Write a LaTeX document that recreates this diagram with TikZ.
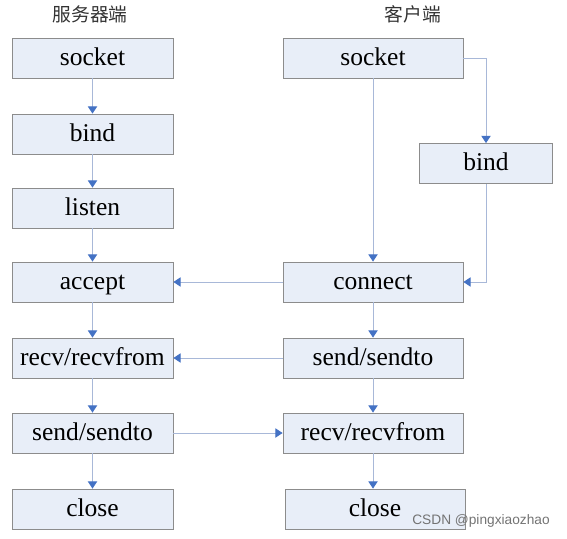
\documentclass[tikz,border=0pt]{standalone}
\usepackage{fontspec}
\setmainfont{Liberation Serif}
\newfontfamily\cjkfont{Noto Sans CJK SC}
\newfontfamily\wmfont{Liberation Sans}
\usetikzlibrary{arrows.meta}
\definecolor{boxfill}{HTML}{E8EEF8}
\definecolor{boxline}{HTML}{8C8C8C}
\definecolor{linkline}{HTML}{A8B8D8}
\definecolor{tipblue}{HTML}{4472C4}

\begin{document}
\begin{tikzpicture}[x=0.03cm,y=-0.03cm,
	box/.style={draw=boxline,fill=boxfill,line width=0.6pt,minimum width=4.83cm,minimum height=1.2cm,inner sep=0pt,font=\fontsize{21.8}{24}\selectfont,text height=16.3pt,text depth=3.7pt},
	wide/.style={box,minimum width=5.4cm},
	link/.style={draw=linkline,line width=0.8pt,-{Triangle[color=tipblue,length=0.22cm,width=0.28cm]}},
	title/.style={font=\cjkfont\fontsize{16}{18}\selectfont,text=black!80}]
	\useasboundingbox (0,0) rectangle (567,539);
	% titles
	\node[title] (server) at (90,14) {服务器端};
	\node[title] (client) at (413,14) {客户端};
	% server side
	\node[box] (sSocket) at (92.5,58) {socket};
	\node[box] (sBind) at (92.5,134) {bind};
	\node[box] (sListen) at (92.5,208) {listen};
	\node[box] (sAccept) at (92.5,282) {accept};
	\node[box] (sRecv) at (92.5,358) {recv/recvfrom};
	\node[box] (sSend) at (92.5,433) {send/sendto};
	\node[box] (sClose) at (92.5,509) {close};
	% client side
	\node[wide] (cSocket) at (373,58) {socket};
	\node[box,minimum width=3.99cm] (cBind) at (486,163.5) {bind};
	\node[wide] (cConnect) at (373,282) {connect};
	\node[wide] (cSend) at (373,358) {send/sendto};
	\node[wide] (cRecv) at (373,433) {recv/recvfrom};
	\node[wide] (cClose) at (375,509) {close};
	% server flow
	\draw[link] (sSocket) -- (sBind);
	\draw[link] (sBind) -- (sListen);
	\draw[link] (sListen) -- (sAccept);
	\draw[link] (sAccept) -- (sRecv);
	\draw[link] (sRecv) -- (sSend);
	\draw[link] (sSend) -- (sClose);
	% client flow
	\draw[link] (cSocket.south) -- (cConnect.north);
	\draw[link] (cSocket.east) -| (cBind.north);
	\draw[link] (cBind.south) |- (cConnect.east);
	\draw[link] (cConnect.south) -- (cSend.north);
	\draw[link] (cSend.south) -- (cRecv.north);
	\draw[link] (cRecv.south) -- (cRecv.south |- cClose.north);
	% between the two sides
	\draw[link] (cConnect.west) -- (sAccept.east);
	\draw[link] (cSend.west) -- (sRecv.east);
	\draw[link] (sSend.east) -- (cRecv.west);
	% watermark
	\node[font=\wmfont\fontsize{11.7}{14}\selectfont,text=black!55] (mark) at (481,521) {CSDN @pingxiaozhao};
\end{tikzpicture}
\end{document}
